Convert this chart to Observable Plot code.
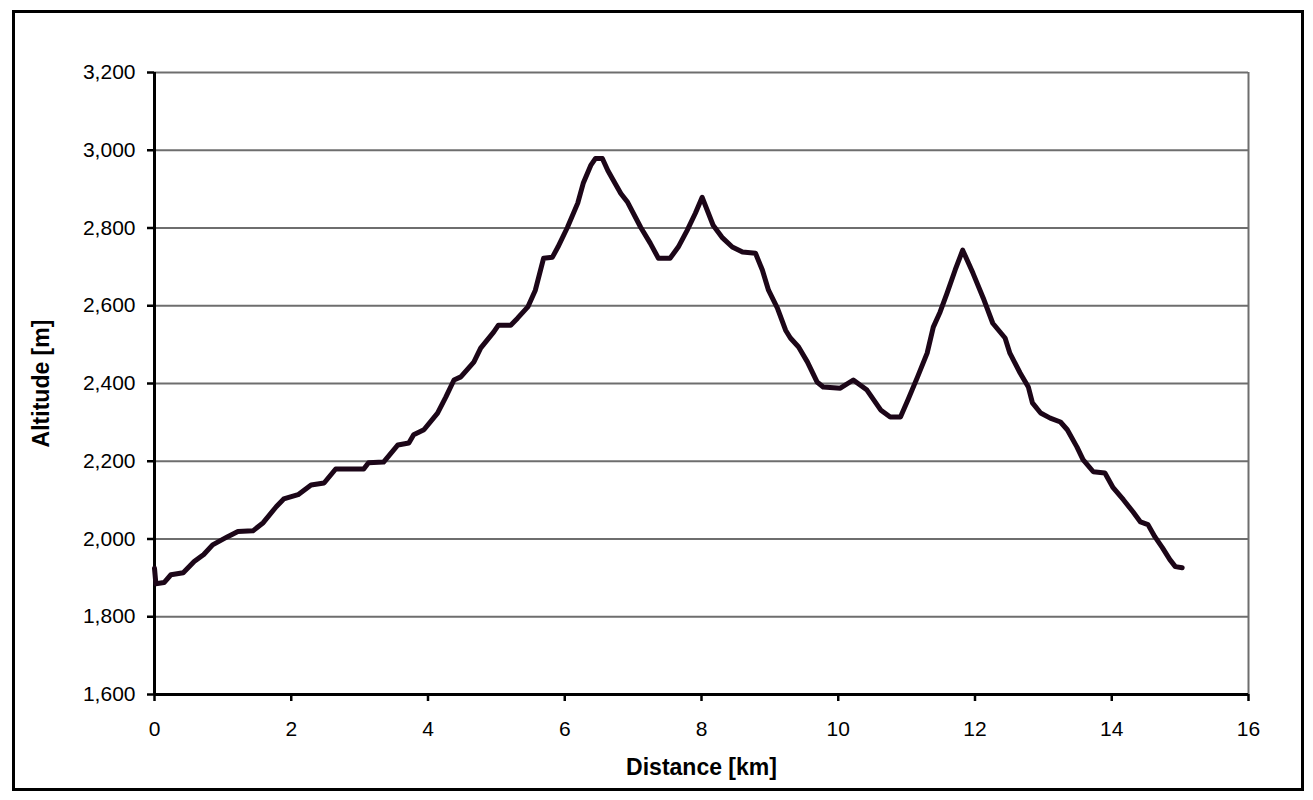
<!DOCTYPE html>
<html>
<head>
<meta charset="utf-8">
<script src="https://cdn.jsdelivr.net/npm/d3@7"></script>
<script src="https://cdn.jsdelivr.net/npm/@observablehq/plot@0.6"></script>
<style>
  html, body { margin: 0; padding: 0; background: #fff; }
  #wrap { position: relative; width: 1313px; height: 800px; }
  #frame { position: absolute; left: 12px; top: 10px; width: 1286px; height: 775px; border: 3px solid #000; pointer-events: none; }
</style>
</head>
<body>
<div id="wrap"><div id="frame"></div></div>
<script>
const distanceKm = [0, 0.02, 0.14, 0.24, 0.42, 0.58, 0.72, 0.85, 1.07, 1.22, 1.44, 1.59, 1.78, 1.89, 2.10, 2.29, 2.48, 2.65, 3.06, 3.13, 3.35, 3.56, 3.72, 3.79, 3.94, 4.14, 4.26, 4.38, 4.48, 4.67, 4.77, 4.96, 5.03, 5.21, 5.31, 5.46, 5.57, 5.69, 5.82, 5.90, 6.04, 6.19, 6.27, 6.38, 6.45, 6.55, 6.63, 6.71, 6.82, 6.92, 7.11, 7.25, 7.37, 7.54, 7.66, 7.79, 7.91, 8.01, 8.17, 8.30, 8.45, 8.60, 8.79, 8.89, 8.98, 9.11, 9.23, 9.30, 9.42, 9.55, 9.69, 9.78, 10.03, 10.22, 10.42, 10.62, 10.76, 10.91, 11.02, 11.16, 11.30, 11.39, 11.49, 11.59, 11.71, 11.82, 11.97, 12.12, 12.26, 12.44, 12.51, 12.66, 12.78, 12.84, 12.96, 13.10, 13.25, 13.35, 13.49, 13.58, 13.73, 13.90, 14.02, 14.17, 14.31, 14.42, 14.53, 14.63, 14.74, 14.85, 14.93, 15.03];
const altitudeM = [1925, 1885, 1888, 1908, 1913, 1942, 1960, 1985, 2006, 2019, 2021, 2042, 2083, 2103, 2114, 2139, 2144, 2180, 2180, 2196, 2198, 2242, 2247, 2268, 2281, 2324, 2365, 2409, 2417, 2455, 2491, 2532, 2550, 2550, 2568, 2597, 2640, 2722, 2725, 2751, 2802, 2864, 2915, 2961, 2979, 2979, 2948, 2923, 2889, 2866, 2802, 2761, 2722, 2722, 2751, 2794, 2838, 2879, 2807, 2776, 2751, 2738, 2735, 2692, 2640, 2594, 2537, 2517, 2494, 2455, 2404, 2391, 2388, 2409, 2383, 2332, 2314, 2314, 2358, 2417, 2478, 2545, 2584, 2632, 2692, 2743, 2684, 2620, 2555, 2517, 2478, 2427, 2391, 2350, 2324, 2311, 2301, 2281, 2237, 2204, 2173, 2170, 2132, 2101, 2070, 2044, 2037, 2006, 1978, 1947, 1929, 1926];
const xTicks = [0, 2, 4, 6, 8, 10, 12, 14, 16];
const yTicks = [1600, 1800, 2000, 2200, 2400, 2600, 2800, 3000, 3200];
const xTitle = "Distance [km]";
const yTitle = "Altitude [m]";

const data = distanceKm.map((d, i) => ({d, a: altitudeM[i]}));

const chart = Plot.plot({
  width: 1313,
  height: 800,
  marginLeft: 154,
  marginRight: 65,
  marginTop: 72,
  marginBottom: 106,
  style: {fontFamily: "'Liberation Sans', Arial, sans-serif", background: "transparent", color: "#000"},
  x: {domain: [0, 16]},
  y: {domain: [1600, 3200]},
  marks: [
    Plot.gridY(yTicks.slice(1), {stroke: "#6e6e6e", strokeOpacity: 1, strokeWidth: 2}),
    Plot.ruleX([16], {stroke: "#6e6e6e", strokeWidth: 2}),
    Plot.ruleX([0], {stroke: "#000", strokeWidth: 3}),
    Plot.ruleY([1600], {stroke: "#000", strokeWidth: 3}),
    Plot.axisY(yTicks, {tickFormat: d3.format(","), tickSize: 7, tickPadding: 12, strokeWidth: 2.5, fontSize: 21, label: null, fill: "#000", stroke: "#000"}),
    Plot.axisX(xTicks, {tickSize: 7, tickPadding: 20, strokeWidth: 2.5, fontSize: 21, label: null, fill: "#000", stroke: "#000"}),
    Plot.line(data, {x: "d", y: "a", stroke: "#1c0618", strokeWidth: 5, strokeLinejoin: "round", strokeLinecap: "round"}),
    Plot.text([xTitle], {frameAnchor: "bottom", dy: 73, lineAnchor: "middle", fontWeight: "bold", fontSize: 23, fill: "#000"}),
    Plot.text([yTitle], {frameAnchor: "left", dx: -113, rotate: -90, lineAnchor: "middle", textAnchor: "middle", fontWeight: "bold", fontSize: 23, fill: "#000"})
  ]
});
document.getElementById("wrap").appendChild(chart);
chart.style.position = "absolute";
chart.style.left = "0";
chart.style.top = "0";
</script>
</body>
</html>
